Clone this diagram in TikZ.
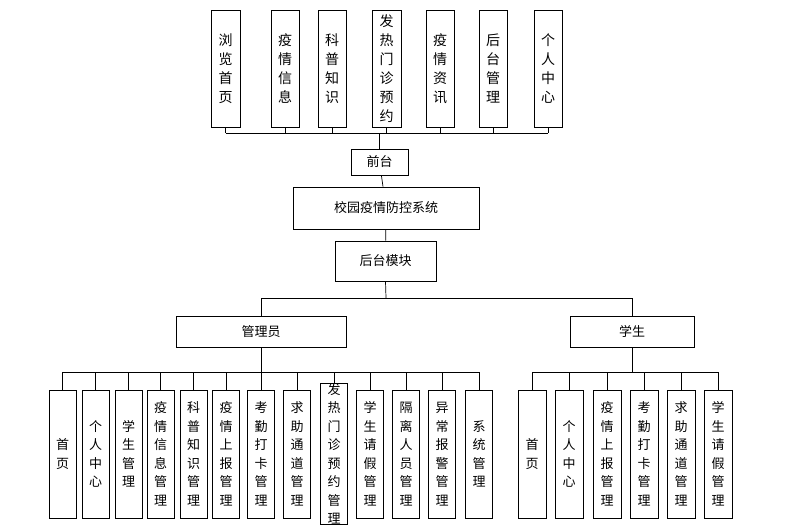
\documentclass[tikz,border=0pt]{standalone}
\usepackage{fontspec}
\newfontfamily\cjk{Noto Sans CJK SC}
\begin{document}
\begin{tikzpicture}[x=1pt,y=-1pt,
  box/.style={draw=black,line width=0.8pt,fill=white,inner sep=0pt,font=\cjk\fontsize{13}{15}\selectfont},
  vbox/.style={box,align=center,font=\cjk\fontsize{14}{19}\selectfont},
  sbox/.style={box,align=center,font=\cjk\fontsize{13}{18.5}\selectfont},
  ln/.style={line width=0.7pt}]
\useasboundingbox (0,0) rectangle (805,526);
% top
\coordinate (bus) at (386,133);
\foreach \n/\x/\w/\t in {t1/225.5/29/浏\\览\\首\\页, t2/285/28/疫\\情\\信\\息, t3/332/28/科\\普\\知\\识, t4/386.5/29/发\\热\\门\\诊\\预\\约, t5/440/28/疫\\情\\资\\讯, t6/493/28/后\\台\\管\\理, t7/548/28/个\\人\\中\\心}{
  \node[vbox,minimum width=\w,minimum height=117] (\n) at (\x,68.5) {\t};
  \draw[ln] (\n.south) -- (\n.south |- bus);
}
\draw[ln] (t1.south |- bus) -- (t7.south |- bus);
\node[box,minimum width=57,minimum height=26] (qt) at (379.5,162) {前台};
\draw[ln] (qt.north) -- (qt.north |- bus);
\node[box,minimum width=186,minimum height=42] (sys) at (386,208) {校园疫情防控系统};
\node[box,minimum width=101,minimum height=40] (ht) at (385.5,261) {后台模块};
\draw[ln] (qt) -- (sys);
\draw[ln] (sys) -- (ht);
\coordinate (bus2) at (386,298);
\node[box,minimum width=170,minimum height=31] (gly) at (261,331.5) {管理员};
\node[box,minimum width=124,minimum height=31] (xs) at (632,331.5) {学生};
\draw[ln] (ht.south) -- (bus2);
\draw[ln] (gly.north) -- (gly.north |- bus2) -- (xs.north |- bus2) -- (xs.north);
% admin
\coordinate (bus3) at (270,372);
\foreach \n/\x/\t in {a1/62.5/首\\页, a2/95.5/个\\人\\中\\心, a3/128.5/学\\生\\管\\理, a4/160.5/疫\\情\\信\\息\\管\\理, a5/193.5/科\\普\\知\\识\\管\\理, a6/226/疫\\情\\上\\报\\管\\理, a7/261/考\\勤\\打\\卡\\管\\理, a8/297/求\\助\\通\\道\\管\\理, a9/334/发\\热\\门\\诊\\预\\约\\管\\理, a10/370/学\\生\\请\\假\\管\\理, a11/406/隔\\离\\人\\员\\管\\理, a12/442/异\\常\\报\\警\\管\\理, a13/479/系\\统\\管\\理}{
  \node[sbox,minimum width=27,minimum height=128] (\n) at (\x,454) {\t};
  \draw[ln] (\n.north) -- (\n.north |- bus3);
}
\draw[ln] (a1.north |- bus3) -- (a13.north |- bus3);
\draw[ln] (gly.south) -- (gly.south |- bus3);
% student
\foreach \n/\x/\t in {s1/532/首\\页, s2/569/个\\人\\中\\心, s3/607/疫\\情\\上\\报\\管\\理, s4/644/考\\勤\\打\\卡\\管\\理, s5/681/求\\助\\通\\道\\管\\理, s6/718/学\\生\\请\\假\\管\\理}{
  \node[sbox,minimum width=28,minimum height=128] (\n) at (\x,454) {\t};
  \draw[ln] (\n.north) -- (\n.north |- bus3);
}
\draw[ln] (s1.north |- bus3) -- (s6.north |- bus3);
\draw[ln] (xs.south) -- (xs.south |- bus3);
\end{tikzpicture}
\end{document}
